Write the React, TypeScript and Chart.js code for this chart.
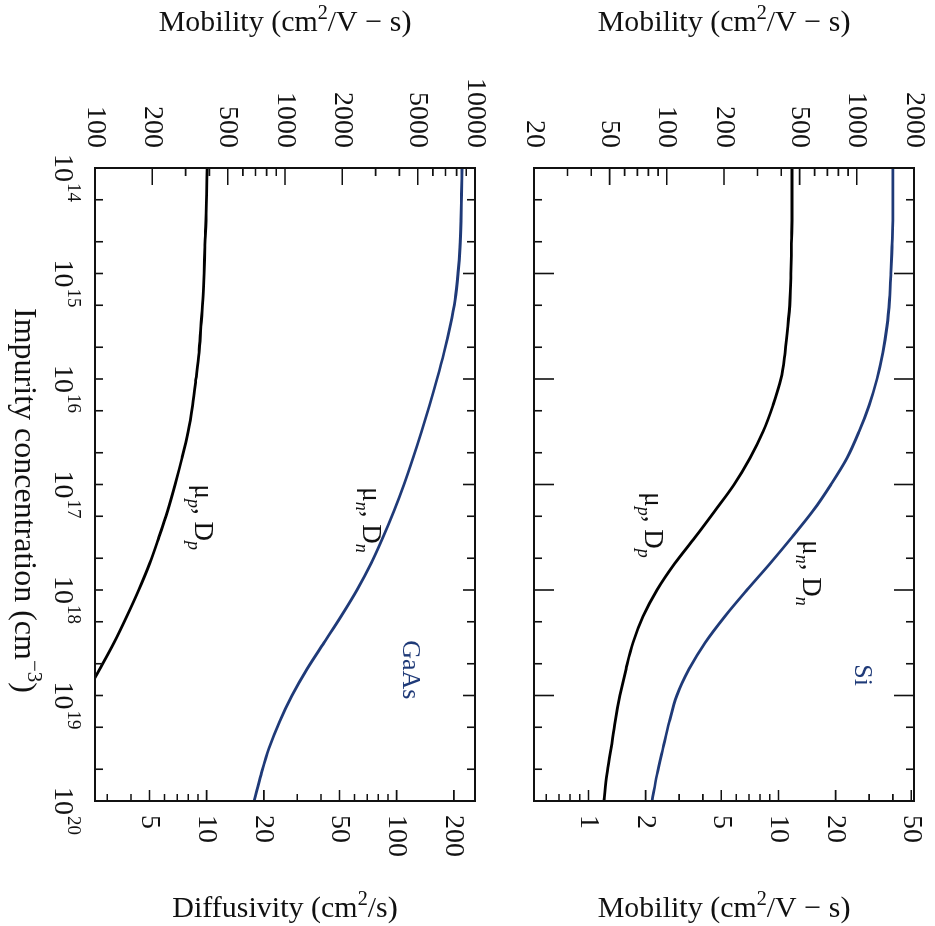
import React, { useEffect, useRef } from 'react';
import { Chart, registerables } from 'chart.js';

Chart.register(...registerables);

// ---------------- data ----------------
// impurity concentration, quarter-decade steps from 1e14 to 1e20 (cm^-3)
const CONCENTRATION = [
  1e14, 1.78e14, 3.16e14, 5.62e14,
  1e15, 1.78e15, 3.16e15, 5.62e15,
  1e16, 1.78e16, 3.16e16, 5.62e16,
  1e17, 1.78e17, 3.16e17, 5.62e17,
  1e18, 1.78e18, 3.16e18, 5.62e18,
  1e19, 1.78e19, 3.16e19, 5.62e19,
  1e20,
];
// mobilities (cm^2/V-s)
const SI_MU_N = [1550, 1550, 1550, 1532, 1513, 1486, 1442, 1373, 1277, 1160, 1027, 888, 731, 588, 456, 349, 264, 202, 159, 131, 113, 103, 95.5, 88.8, 83.6];
const SI_MU_P = [456, 456, 456, 453, 450, 445, 434, 419, 399, 362, 321, 274, 226, 179, 141, 110, 88.8, 75, 66.4, 61, 56.7, 53.4, 50.9, 48.4, 46.7];
const GAAS_MU_N = [8540, 8490, 8440, 8340, 8140, 7850, 7390, 6867, 6310, 5760, 5228, 4718, 4230, 3747, 3280, 2836, 2392, 1971, 1605, 1306, 1089, 935, 824, 748, 687];
const GAAS_MU_P = [389, 386.5, 384, 379, 375, 370, 361, 353, 340, 326, 309, 287, 264, 241, 217, 194, 170, 147, 126, 106, 88.6, null, null, null, null];

const CONC_RANGE = [1e14, 1e20];
const CONC_DECADES = [14, 15, 16, 17, 18, 19, 20];
const CONC_MINOR_MULT = [2, 5];
const SI_MOB_RANGE = [20, 2000];
const GAAS_MOB_RANGE = [100, 10000];
const SI_MOB_TICKS = [20, 50, 100, 200, 500, 1000, 2000];
const GAAS_MOB_TICKS = [100, 200, 500, 1000, 2000, 5000, 10000];
const SI_DIFF_TICKS = [1, 2, 5, 10, 20, 50];
const GAAS_DIFF_TICKS = [5, 10, 20, 50, 100, 200];
const KT_Q = 0.02585; // D = mu * kT/q at 300 K

// annotation anchors [concentration, mobility]
const SI_N_LABEL_AT = [6.9e17, 521];
const SI_P_LABEL_AT = [2.42e17, 77];
const SI_NAME_AT = [6.4e18, 977];
const GAAS_N_LABEL_AT = [2.17e17, 2575];
const GAAS_P_LABEL_AT = [2.04e17, 336];
const GAAS_NAME_AT = [5.7e18, 4180];

// ---------------- styling ----------------
const FONT = "'Liberation Serif', 'Times New Roman', serif";
const BLUE = '#1f3a78';
const INK = '#111111';

type Run = { text: string; sup?: boolean; sub?: boolean; italic?: boolean };
const MOBILITY_TITLE: Run[] = [{ text: 'Mobility (cm' }, { text: '2', sup: true }, { text: '/V − s)' }];
const DIFF_TITLE: Run[] = [{ text: 'Diffusivity (cm' }, { text: '2', sup: true }, { text: '/s)' }];
const CONC_TITLE: Run[] = [{ text: 'Impurity concentration (cm' }, { text: '−3', sup: true }, { text: ')' }];
const N_LABEL: Run[] = [{ text: 'μ' }, { text: 'n', sub: true, italic: true }, { text: ', D' }, { text: 'n', sub: true, italic: true }];
const P_LABEL: Run[] = [{ text: 'μ' }, { text: 'p', sub: true, italic: true }, { text: ', D' }, { text: 'p', sub: true, italic: true }];

function drawRich(ctx: CanvasRenderingContext2D, runs: Run[], x: number, y: number, rot: number, size: number, color: string) {
  ctx.save();
  ctx.translate(x, y);
  ctx.rotate(rot);
  ctx.fillStyle = color;
  ctx.textAlign = 'left';
  ctx.textBaseline = 'alphabetic';
  const fontFor = (r: Run) => `${r.italic ? 'italic ' : ''}${r.sup || r.sub ? Math.round(size * 0.66) : size}px ${FONT}`;
  const widths = runs.map((r) => {
    ctx.font = fontFor(r);
    return ctx.measureText(r.text).width;
  });
  const total = widths.reduce((a, b) => a + b, 0);
  let cx = -total / 2;
  runs.forEach((r, i) => {
    ctx.font = fontFor(r);
    const dy = r.sup ? -size * 0.4 : r.sub ? size * 0.25 : 0;
    ctx.fillText(r.text, cx, dy);
    cx += widths[i];
  });
  ctx.restore();
}

function minorLog(min: number, max: number, majors: number[]) {
  const out: number[] = [];
  for (let e = Math.floor(Math.log10(min)) - 1; e <= Math.ceil(Math.log10(max)); e++) {
    for (let m = 1; m <= 9; m++) {
      const v = m * Math.pow(10, e);
      if (v >= min * 0.999 && v <= max * 1.001 && !majors.some((t) => Math.abs(t - v) / v < 1e-6)) out.push(v);
    }
  }
  return out;
}

type PanelCfg = {
  muN: (number | null)[];
  muP: (number | null)[];
  mobRange: number[];
  mobTicks: number[];
  diffTicks: number[];
  padTop: number;
  xHeight: number;
  bottomPanel: boolean;
  nLabelAt: number[];
  pLabelAt: number[];
  nameAt: number[];
  name: string;
  leftTitle: Run[];
  rightTitle: Run[];
  concMajorTop: number;
  concMajorBottom: number;
};

function buildChart(canvas: HTMLCanvasElement, cfg: PanelCfg) {
  const [mobMin, mobMax] = cfg.mobRange;
  const diffMin = mobMin * KT_Q;
  const diffMax = mobMax * KT_Q;
  const concMajors = CONC_DECADES.map((e) => Math.pow(10, e));
  const concMinors: number[] = [];
  CONC_DECADES.forEach((e) => CONC_MINOR_MULT.forEach((m) => {
    const v = m * Math.pow(10, e);
    if (v <= CONC_RANGE[1]) concMinors.push(v);
  }));
  const mobMinors = minorLog(mobMin, mobMax, cfg.mobTicks);
  const diffMinors = minorLog(diffMin, diffMax, cfg.diffTicks);

  const decor = {
    id: 'decor',
    afterDraw(chart: any) {
      const ctx: CanvasRenderingContext2D = chart.ctx;
      const { left, right, top, bottom } = chart.chartArea;
      const xs = chart.scales.x;
      const ys = chart.scales.y;
      const y2 = chart.scales.y2;
      ctx.save();
      ctx.strokeStyle = INK;
      ctx.lineWidth = 1.6;
      ctx.beginPath();
      const hTick = (p: number, x0: number, len: number) => { ctx.moveTo(x0, p); ctx.lineTo(x0 + len, p); };
      const vTick = (p: number, y0: number, len: number) => { ctx.moveTo(p, y0); ctx.lineTo(p, y0 + len); };
      cfg.mobTicks.forEach((v) => hTick(ys.getPixelForValue(v), left, 17));
      mobMinors.forEach((v) => hTick(ys.getPixelForValue(v), left, 8));
      cfg.diffTicks.forEach((v) => hTick(y2.getPixelForValue(v), right, -11));
      diffMinors.forEach((v) => hTick(y2.getPixelForValue(v), right, -7));
      concMajors.forEach((v) => {
        const p = xs.getPixelForValue(v);
        vTick(p, bottom, -cfg.concMajorBottom);
        vTick(p, top, cfg.concMajorTop);
      });
      concMinors.forEach((v) => {
        const p = xs.getPixelForValue(v);
        vTick(p, bottom, -8);
        vTick(p, top, 8);
      });
      ctx.stroke();
      ctx.lineWidth = 2;
      ctx.strokeRect(left, top, right - left, bottom - top);
      ctx.restore();

      const midY = (top + bottom) / 2;
      // axis titles (rotated so they read upright once the figure is turned)
      drawRich(ctx, cfg.leftTitle, 31, midY, -Math.PI / 2, 30, INK);
      drawRich(ctx, cfg.rightTitle, 917, midY, -Math.PI / 2, 30, INK);

      // curve labels
      const at = (p: number[]) => [xs.getPixelForValue(p[0]), ys.getPixelForValue(p[1])];
      const [nx, ny] = at(cfg.nLabelAt);
      drawRich(ctx, N_LABEL, nx, ny, 0, 27, INK);
      const [px, py] = at(cfg.pLabelAt);
      drawRich(ctx, P_LABEL, px, py, 0, 27, INK);
      const [sx, sy] = at(cfg.nameAt);
      drawRich(ctx, [{ text: cfg.name }], sx, sy, 0, 26, BLUE);

      if (cfg.bottomPanel) {
        // concentration tick labels 10^n
        ctx.save();
        ctx.fillStyle = INK;
        ctx.textBaseline = 'alphabetic';
        CONC_DECADES.forEach((e) => {
          const p = xs.getPixelForValue(Math.pow(10, e));
          ctx.font = `28px ${FONT}`;
          const w = ctx.measureText('10').width;
          ctx.textAlign = 'center';
          ctx.fillText('10', p, bottom + 40);
          ctx.font = `19px ${FONT}`;
          ctx.textAlign = 'left';
          ctx.fillText(String(e), p + w / 2 + 1, bottom + 27);
        });
        ctx.restore();
        drawRich(ctx, CONC_TITLE, (left + right) / 2 + 16, bottom + 80, 0, 32, INK);
      }
    },
  };

  const tickFont = { family: FONT, size: 28 };
  const noPad = (s: any) => { s.paddingTop = 0; s.paddingBottom = 0; };
  return new Chart(canvas, {
    type: 'line',
    data: {
      datasets: [
        {
          label: 'mu_n',
          data: CONCENTRATION.map((c, i) => ({ x: c, y: cfg.muN[i] })),
          borderColor: BLUE,
          borderWidth: 2.8,
          pointRadius: 0,
          cubicInterpolationMode: 'monotone',
          yAxisID: 'y',
          xAxisID: 'x',
        },
        {
          label: 'mu_p',
          data: CONCENTRATION.map((c, i) => ({ x: c, y: cfg.muP[i] })),
          borderColor: '#000000',
          borderWidth: 2.8,
          pointRadius: 0,
          cubicInterpolationMode: 'monotone',
          yAxisID: 'y',
          xAxisID: 'x',
        },
      ],
    } as any,
    options: {
      animation: false,
      responsive: false,
      events: [],
      layout: { padding: { top: cfg.padTop, left: 0, right: 0, bottom: 0 } },
      plugins: { legend: { display: false }, tooltip: { enabled: false }, title: { display: false } },
      scales: {
        x: {
          type: 'logarithmic',
          position: 'bottom',
          min: CONC_RANGE[0],
          max: CONC_RANGE[1],
          ticks: { display: false },
          grid: { display: false, drawTicks: false },
          border: { display: false },
          afterFit: (s: any) => { s.height = cfg.xHeight; s.paddingLeft = 0; s.paddingRight = 0; },
        },
        y: {
          type: 'logarithmic',
          position: 'left',
          min: mobMin,
          max: mobMax,
          afterBuildTicks: (s: any) => { s.ticks = cfg.mobTicks.map((v) => ({ value: v })); },
          ticks: { callback: (v: any) => String(v), autoSkip: false, padding: 20, font: tickFont, color: INK },
          grid: { display: false, drawTicks: false },
          border: { display: false },
          afterFit: (s: any) => { s.width = 168; noPad(s); },
        },
        y2: {
          type: 'logarithmic',
          position: 'right',
          display: true,
          min: diffMin,
          max: diffMax,
          afterBuildTicks: (s: any) => { s.ticks = cfg.diffTicks.map((v) => ({ value: v })); },
          ticks: { callback: (v: any) => String(v), autoSkip: false, padding: 14, font: tickFont, color: INK },
          grid: { display: false, drawTicks: false },
          border: { display: false },
          afterFit: (s: any) => { s.width = 125; noPad(s); },
        },
      },
    } as any,
    plugins: [decor],
  });
}

export default function App() {
  const siRef = useRef<HTMLCanvasElement>(null);
  const gaRef = useRef<HTMLCanvasElement>(null);

  useEffect(() => {
    const si = buildChart(siRef.current!, {
      muN: SI_MU_N,
      muP: SI_MU_P,
      mobRange: SI_MOB_RANGE,
      mobTicks: SI_MOB_TICKS,
      diffTicks: SI_DIFF_TICKS,
      padTop: 21,
      xHeight: 29,
      bottomPanel: false,
      nLabelAt: SI_N_LABEL_AT,
      pLabelAt: SI_P_LABEL_AT,
      nameAt: SI_NAME_AT,
      name: 'Si',
      leftTitle: MOBILITY_TITLE,
      rightTitle: MOBILITY_TITLE,
      concMajorTop: 20,
      concMajorBottom: 20,
    });
    const ga = buildChart(gaRef.current!, {
      muN: GAAS_MU_N,
      muP: GAAS_MU_P,
      mobRange: GAAS_MOB_RANGE,
      mobTicks: GAAS_MOB_TICKS,
      diffTicks: GAAS_DIFF_TICKS,
      padTop: 30,
      xHeight: 95,
      bottomPanel: true,
      nLabelAt: GAAS_N_LABEL_AT,
      pLabelAt: GAAS_P_LABEL_AT,
      nameAt: GAAS_NAME_AT,
      name: 'GaAs',
      leftTitle: MOBILITY_TITLE,
      rightTitle: DIFF_TITLE,
      concMajorTop: 12,
      concMajorBottom: 8,
    });
    return () => {
      si.destroy();
      ga.destroy();
    };
  }, []);

  return (
    <div style={{ position: 'fixed', left: 0, top: 0, width: 935, height: 926, overflow: 'hidden', background: '#ffffff' }}>
      <div
        style={{
          position: 'absolute',
          left: 0,
          top: 0,
          width: 926,
          height: 935,
          transformOrigin: '0 0',
          transform: 'translate(935px, 0px) rotate(90deg)',
        }}
      >
        <canvas ref={siRef} width={926} height={430} style={{ position: 'absolute', left: 0, top: 0, display: 'block' }} />
        <canvas ref={gaRef} width={926} height={505} style={{ position: 'absolute', left: 0, top: 430, display: 'block' }} />
      </div>
    </div>
  );
}
